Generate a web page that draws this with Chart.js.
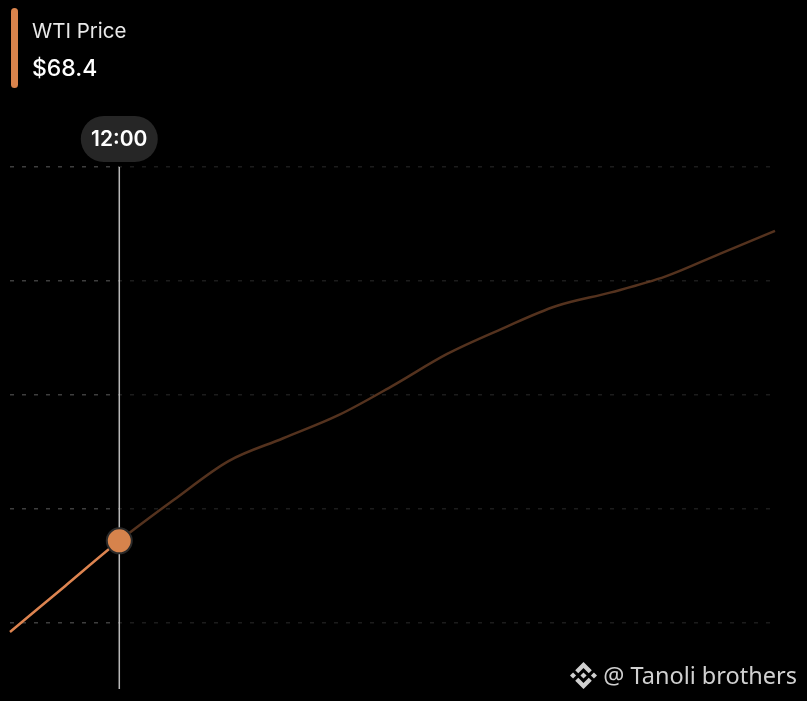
<!DOCTYPE html>
<html>
<head>
<meta charset="utf-8">
<script src="https://cdn.jsdelivr.net/npm/chart.js@4.4.1/dist/chart.umd.min.js"></script>
<style>
  html, body { margin: 0; padding: 0; background: #000; }
  #wrap { position: relative; width: 807px; height: 701px; overflow: hidden; }
  #chart { position: absolute; left: 0; top: 0; }
  .bar { position: absolute; left: 11px; top: 8px; width: 7px; height: 80px; border-radius: 4px; background: #d9834c; }
  .legend { position: absolute; left: 32px; top: 10px; }
  .legend .name { font-family: Inter, "Noto Sans", sans-serif; font-size: 20.5px; color: #e8e8e8; margin-top: 9px; line-height: 24px; }
  .legend .value { font-family: Inter, "Noto Sans", sans-serif; font-size: 23px; font-weight: 500; color: #fff; margin-top: 12px; line-height: 27px; }
  .mark { position: absolute; right: 10px; top: 659px; display: flex; align-items: center; font-family: "Noto Sans", sans-serif; font-size: 23.5px; color: #d0d0d0; }
  .mark svg { margin-right: 6px; }
</style>
</head>
<body>
<div id="wrap">
  <canvas id="chart" width="807" height="701"></canvas>
  <div class="bar"></div>
  <div class="legend"><div class="name">WTI Price</div><div class="value" id="priceLabel"></div></div>
  <div class="mark">
    <svg width="27" height="27" viewBox="0 0 126.61 126.61">
      <g fill="#d0d0d0">
        <path d="M38.73 53.2l24.59-24.58 24.6 24.6 14.3-14.31L63.32 0 24.42 38.9l14.31 14.3z"/>
        <path d="M0 63.31l14.3-14.31 14.31 14.31-14.31 14.3z"/>
        <path d="M38.73 73.41l24.59 24.59 24.6-24.6 14.31 14.29-38.9 38.91-38.91-38.88-.02-.02 14.33-14.29z"/>
        <path d="M98 63.31l14.3-14.31 14.31 14.3-14.31 14.32z"/>
        <path d="M77.83 63.3L63.32 48.78 48.81 63.3l14.51 14.53z"/>
      </g>
    </svg>
    <span>@ Tanoli brothers</span>
  </div>
</div>
<script>
// half-hourly WTI prices
const times = ["11:00", "11:30", "12:00", "12:30", "13:00", "13:30", "14:00", "14:30",
               "15:00", "15:30", "16:00", "16:30", "17:00", "17:30", "18:00"];
const prices = [67.96, 68.16, 68.36, 68.54, 68.71, 68.81, 68.91, 69.04,
                69.18, 69.29, 69.39, 69.45, 69.52, 69.62, 69.72];
const gridValues = [68, 68.5, 69, 69.5, 70];
const activeIndex = 2;

const orange = "#dd8450";
const dimOrange = "rgba(221,132,80,0.38)";

document.getElementById("priceLabel").innerText = "$" + prices[activeIndex].toFixed(1);

// dims the grid to the right of the crosshair, then draws crosshair and time pill
const crosshair = {
    id: "crosshair",
    beforeDatasetsDraw(chart) {
        const { ctx, chartArea } = chart;
        const x = chart.scales.x.getPixelForValue(activeIndex);
        ctx.save();
        ctx.fillStyle = "rgba(0,0,0,0.55)";
        ctx.fillRect(x, chartArea.top - 2, chartArea.right - x + 10, chartArea.bottom - chartArea.top + 4);
        ctx.restore();
    },
    afterDatasetsDraw(chart) {
        const { ctx, chartArea } = chart;
        const x = chart.scales.x.getPixelForValue(activeIndex);
        const y = chart.scales.y.getPixelForValue(prices[activeIndex]);
        ctx.save();
        ctx.strokeStyle = "#b8b8b8";
        ctx.lineWidth = 1.5;
        ctx.beginPath();
        ctx.moveTo(x, chartArea.top);
        ctx.lineTo(x, chartArea.bottom);
        ctx.stroke();

        // pill label
        const w = 77, h = 46, top = chartArea.top - 51;
        ctx.fillStyle = "#262626";
        ctx.beginPath();
        ctx.roundRect(x - w / 2, top, w, h, h / 2);
        ctx.fill();
        ctx.fillStyle = "#fff";
        ctx.font = "600 21px Inter, 'Noto Sans', sans-serif";
        ctx.textAlign = "center";
        ctx.textBaseline = "middle";
        ctx.fillText(times[activeIndex], x, top + h / 2 + 1);

        // active point
        ctx.beginPath();
        ctx.arc(x, y, 12.5, 0, Math.PI * 2);
        ctx.fillStyle = "#d6834c";
        ctx.fill();
        ctx.lineWidth = 2;
        ctx.strokeStyle = "#2a2a2a";
        ctx.stroke();
        ctx.restore();
    }
};

new Chart(document.getElementById("chart"), {
    type: "line",
    data: {
        labels: times,
        datasets: [{
            label: "WTI Price",
            data: prices,
            borderColor: orange,
            borderWidth: 2.5,
            pointRadius: 0,
            tension: 0.4,
            cubicInterpolationMode: "monotone",
            segment: {
                borderColor: c => c.p0DataIndex >= activeIndex ? dimOrange : orange
            }
        }]
    },
    options: {
        responsive: false,
        animation: false,
        events: [],
        layout: { padding: { left: 10, right: 32, top: 167, bottom: 12 } },
        plugins: { legend: { display: false }, tooltip: { enabled: false } },
        scales: {
            x: { display: false, offset: false },
            y: {
                min: 67.71,
                max: 70,
                afterBuildTicks: s => { s.ticks = gridValues.map(v => ({ value: v })); },
                ticks: { display: false },
                grid: { color: "#3e3e3e", lineWidth: 1.5, drawTicks: false, tickLength: 0 },
                border: { display: false, dash: [4, 8] }
            }
        }
    },
    plugins: [crosshair]
});
</script>
</body>
</html>
